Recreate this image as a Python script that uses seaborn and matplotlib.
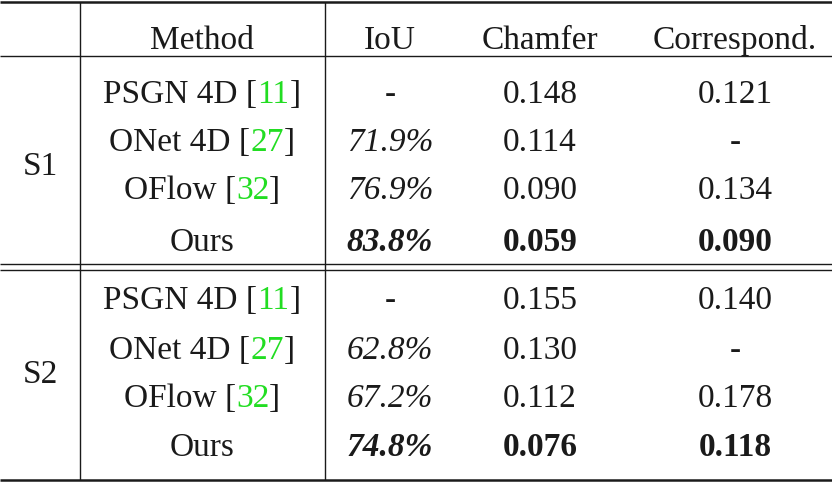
import matplotlib
matplotlib.use("Agg")
import matplotlib.pyplot as plt
import seaborn as sns

sns.set_theme(style="white")
plt.rcParams['font.family'] = ['Liberation Serif', 'DejaVu Serif']
plt.rcParams['text.color'] = 'black'

headers = ["Method", "IoU", "Chamfer", "Correspond."]
groups = ["S1", "S2"]
methods = ["PSGN 4D", "ONet 4D", "OFlow", "Ours"]
cites = ["11", "27", "32", None]
iou = [["-", "71.9%", "76.9%", "83.8%"], ["-", "62.8%", "67.2%", "74.8%"]]
chamfer = [["0.148", "0.114", "0.090", "0.059"], ["0.155", "0.130", "0.112", "0.076"]]
corr = [["0.121", "-", "0.134", "0.090"], ["0.140", "-", "0.178", "0.118"]]

fig = plt.figure(figsize=(8.32, 4.85), dpi=100)
ax = fig.add_axes([0, 0, 1, 1])
ax.set_xlim(0, 832); ax.set_ylim(485, 0); ax.axis("off")
fs = 24
colx = [40, 202, 390, 540, 735]
ax.hlines(3, 0, 832, color="k", lw=1.8)
ax.hlines(57, 0, 832, color="k", lw=1)
ax.hlines([265, 271], 0, 832, color="k", lw=1)
ax.hlines(481, 0, 832, color="k", lw=1.8)
ax.vlines([80, 325], 3, 481, color="k", lw=1)

for h, x in zip(headers, colx[1:]):
    ax.text(x, 49, h, ha="center", va="baseline", fontsize=fs, color="k")

fig.canvas.draw()
r = fig.canvas.get_renderer()
def w(s):
    t = ax.text(0, 0, s, fontsize=fs); bb = t.get_window_extent(r).width; t.remove(); return bb

rows_y = [[103, 151, 199, 251], [309, 359, 407, 456]]
for g in range(2):
    ax.text(colx[0], (rows_y[g][1] + rows_y[g][2]) / 2, groups[g], ha="center", va="baseline", fontsize=fs, color="k")
    for i in range(4):
        y = rows_y[g][i]
        if cites[i]:
            parts = [(methods[i] + " [", "k"), (cites[i], "#22dd22"), ("]", "k")]
            total = sum(w(p) for p, _ in parts)
            x = colx[1] - total / 2
            for p, c in parts:
                ax.text(x, y, p, ha="left", va="baseline", fontsize=fs, color=c)
                x += w(p)
        else:
            ax.text(colx[1], y, methods[i], ha="center", va="baseline", fontsize=fs, color="k")
        bold = "bold" if i == 3 else "normal"
        for vals, x in zip([iou, chamfer, corr], colx[2:]):
            v = vals[g][i]
            style = "italic" if "%" in v else "normal"
            ax.text(x, y, v, ha="center", va="baseline", fontsize=fs, fontweight=bold, fontstyle=style, color="k")

fig.savefig("out.png", dpi=100)
